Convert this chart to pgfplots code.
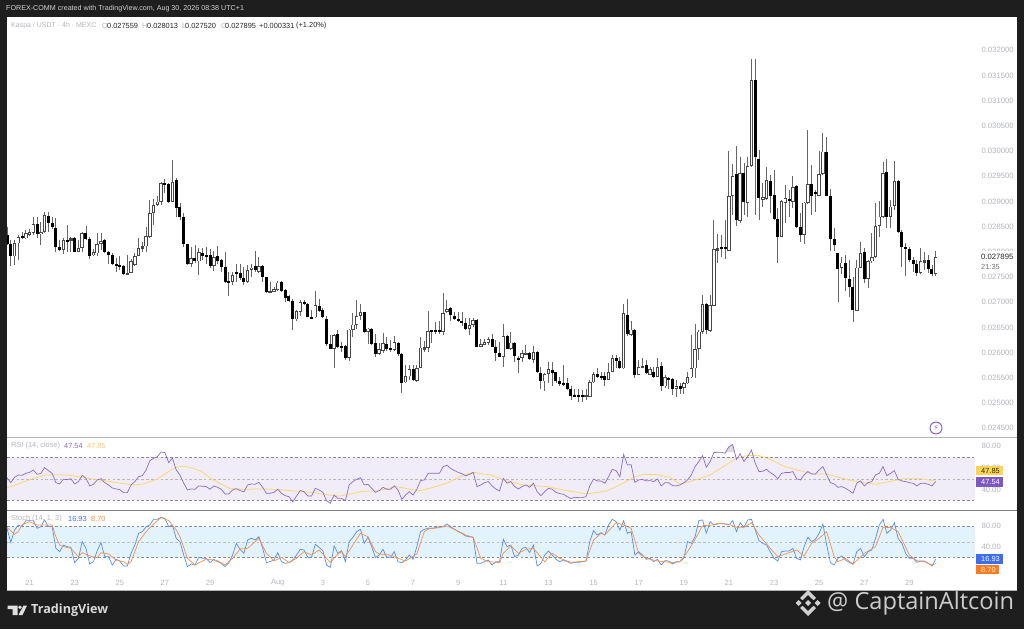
\documentclass[border=0pt]{standalone}
\usepackage{fontspec}
\setmainfont{Liberation Sans}
\newfontfamily\wm{Open Sans}
\newfontfamily\sym{DejaVu Sans}
\usepackage{pgfplots}
\usepackage{pgfplotstable}
\pgfplotsset{compat=1.18}
\definecolor{dark}{HTML}{1E1E1E}
\definecolor{tvgrey}{HTML}{B4B6BC}
\definecolor{rsi}{HTML}{8A6CC8}
\definecolor{rsima}{HTML}{FBD66B}
\definecolor{kline}{HTML}{5A8CF0}
\definecolor{dline}{HTML}{F59045}
\pgfplotstableread{
i o h l c
0 0.02834 0.02850 0.02814 0.02816
1 0.02816 0.02824 0.02773 0.02791
2 0.02791 0.02824 0.02775 0.02818
3 0.02817 0.02834 0.02784 0.02830
4 0.02832 0.02840 0.02825 0.02828
5 0.02827 0.02844 0.02825 0.02838
6 0.02835 0.02845 0.02832 0.02839
7 0.02837 0.02870 0.02834 0.02855
8 0.02855 0.02870 0.02827 0.02836
9 0.02836 0.02860 0.02814 0.02840
10 0.02840 0.02880 0.02837 0.02873
11 0.02871 0.02880 0.02840 0.02857
12 0.02857 0.02869 0.02845 0.02849
13 0.02847 0.02867 0.02800 0.02810
14 0.02810 0.02824 0.02801 0.02804
15 0.02804 0.02827 0.02795 0.02824
16 0.02824 0.02853 0.02800 0.02822
17 0.02824 0.02829 0.02800 0.02827
18 0.02827 0.02829 0.02799 0.02800
19 0.02800 0.02824 0.02799 0.02808
20 0.02808 0.02840 0.02799 0.02837
21 0.02837 0.02851 0.02824 0.02826
22 0.02826 0.02829 0.02785 0.02792
23 0.02793 0.02805 0.02792 0.02799
24 0.02797 0.02838 0.02792 0.02816
25 0.02816 0.02837 0.02804 0.02822
26 0.02824 0.02825 0.02797 0.02799
27 0.02799 0.02802 0.02777 0.02793
28 0.02793 0.02797 0.02774 0.02777
29 0.02777 0.02787 0.02761 0.02775
30 0.02774 0.02791 0.02765 0.02773
31 0.02773 0.02774 0.02754 0.02756
32 0.02756 0.02794 0.02754 0.02759
33 0.02759 0.02785 0.02759 0.02781
34 0.02775 0.02797 0.02773 0.02792
35 0.02792 0.02828 0.02791 0.02808
36 0.02808 0.02820 0.02799 0.02811
37 0.02811 0.02849 0.02800 0.02832
38 0.02830 0.02903 0.02827 0.02877
39 0.02877 0.02905 0.02853 0.02893
40 0.02893 0.02910 0.02892 0.02900
41 0.02899 0.02939 0.02893 0.02937
42 0.02936 0.02945 0.02917 0.02934
43 0.02934 0.02936 0.02898 0.02899
44 0.02899 0.02982 0.02899 0.02939
45 0.02943 0.02947 0.02869 0.02887
46 0.02889 0.02897 0.02863 0.02869
47 0.02870 0.02877 0.02810 0.02816
48 0.02816 0.02816 0.02774 0.02777
49 0.02777 0.02810 0.02771 0.02787
50 0.02787 0.02814 0.02779 0.02781
51 0.02781 0.02807 0.02754 0.02799
52 0.02797 0.02807 0.02784 0.02791
53 0.02794 0.02810 0.02777 0.02793
54 0.02794 0.02805 0.02769 0.02772
55 0.02772 0.02801 0.02763 0.02789
56 0.02792 0.02812 0.02777 0.02781
57 0.02783 0.02785 0.02761 0.02771
58 0.02771 0.02799 0.02738 0.02740
59 0.02743 0.02761 0.02713 0.02740
60 0.02741 0.02761 0.02734 0.02754
61 0.02761 0.02777 0.02741 0.02759
62 0.02759 0.02776 0.02744 0.02749
63 0.02748 0.02771 0.02734 0.02740
64 0.02740 0.02774 0.02738 0.02764
65 0.02764 0.02777 0.02751 0.02769
66 0.02772 0.02801 0.02761 0.02764
67 0.02761 0.02789 0.02758 0.02772
68 0.02772 0.02774 0.02741 0.02750
69 0.02750 0.02751 0.02719 0.02720
70 0.02721 0.02740 0.02720 0.02723
71 0.02722 0.02731 0.02721 0.02726
72 0.02724 0.02742 0.02723 0.02739
73 0.02740 0.02742 0.02721 0.02723
74 0.02724 0.02726 0.02701 0.02708
75 0.02713 0.02715 0.02701 0.02703
76 0.02703 0.02706 0.02645 0.02666
77 0.02666 0.02685 0.02662 0.02683
78 0.02681 0.02705 0.02672 0.02701
79 0.02701 0.02705 0.02695 0.02697
80 0.02697 0.02698 0.02670 0.02670
81 0.02670 0.02685 0.02666 0.02668
82 0.02670 0.02723 0.02668 0.02694
83 0.02693 0.02706 0.02681 0.02683
84 0.02685 0.02688 0.02668 0.02670
85 0.02666 0.02672 0.02613 0.02617
86 0.02617 0.02635 0.02607 0.02608
87 0.02608 0.02638 0.02569 0.02635
88 0.02637 0.02645 0.02609 0.02611
89 0.02613 0.02622 0.02602 0.02611
90 0.02613 0.02615 0.02586 0.02590
91 0.02590 0.02648 0.02584 0.02646
92 0.02646 0.02679 0.02632 0.02656
93 0.02655 0.02705 0.02648 0.02673
94 0.02673 0.02697 0.02665 0.02681
95 0.02681 0.02681 0.02640 0.02642
96 0.02642 0.02650 0.02617 0.02648
97 0.02648 0.02650 0.02616 0.02617
98 0.02620 0.02637 0.02592 0.02597
99 0.02597 0.02619 0.02596 0.02607
100 0.02604 0.02640 0.02599 0.02619
101 0.02617 0.02631 0.02604 0.02607
102 0.02609 0.02625 0.02602 0.02607
103 0.02605 0.02634 0.02604 0.02621
104 0.02620 0.02622 0.02594 0.02597
105 0.02597 0.02599 0.02521 0.02539
106 0.02541 0.02576 0.02539 0.02554
107 0.02553 0.02576 0.02546 0.02567
108 0.02567 0.02576 0.02544 0.02546
109 0.02544 0.02576 0.02541 0.02570
110 0.02570 0.02631 0.02569 0.02610
111 0.02609 0.02624 0.02602 0.02611
112 0.02609 0.02683 0.02602 0.02643
113 0.02645 0.02646 0.02619 0.02643
114 0.02646 0.02660 0.02638 0.02644
115 0.02646 0.02662 0.02638 0.02644
116 0.02642 0.02718 0.02635 0.02679
117 0.02681 0.02705 0.02679 0.02686
118 0.02688 0.02690 0.02662 0.02674
119 0.02673 0.02680 0.02665 0.02667
120 0.02667 0.02681 0.02660 0.02662
121 0.02662 0.02680 0.02653 0.02660
122 0.02658 0.02668 0.02645 0.02647
123 0.02647 0.02668 0.02635 0.02655
124 0.02655 0.02668 0.02652 0.02665
125 0.02664 0.02666 0.02611 0.02612
126 0.02612 0.02628 0.02611 0.02617
127 0.02617 0.02628 0.02615 0.02621
128 0.02619 0.02632 0.02615 0.02627
129 0.02627 0.02637 0.02611 0.02612
130 0.02612 0.02625 0.02584 0.02600
131 0.02600 0.02622 0.02591 0.02592
132 0.02592 0.02657 0.02572 0.02633
133 0.02633 0.02635 0.02607 0.02607
134 0.02608 0.02642 0.02605 0.02620
135 0.02620 0.02621 0.02582 0.02594
136 0.02590 0.02594 0.02559 0.02588
137 0.02589 0.02605 0.02582 0.02599
138 0.02597 0.02615 0.02595 0.02600
139 0.02600 0.02602 0.02586 0.02587
140 0.02586 0.02613 0.02579 0.02601
141 0.02601 0.02603 0.02560 0.02562
142 0.02559 0.02571 0.02529 0.02543
143 0.02543 0.02559 0.02525 0.02558
144 0.02558 0.02581 0.02539 0.02567
145 0.02566 0.02582 0.02533 0.02559
146 0.02561 0.02562 0.02539 0.02543
147 0.02543 0.02552 0.02534 0.02538
148 0.02539 0.02576 0.02533 0.02536
149 0.02539 0.02549 0.02526 0.02529
150 0.02529 0.02533 0.02506 0.02515
151 0.02517 0.02529 0.02513 0.02515
152 0.02517 0.02529 0.02503 0.02514
153 0.02517 0.02526 0.02502 0.02516
154 0.02515 0.02529 0.02506 0.02517
155 0.02513 0.02546 0.02512 0.02541
156 0.02541 0.02562 0.02539 0.02557
157 0.02557 0.02569 0.02549 0.02551
158 0.02553 0.02562 0.02546 0.02551
159 0.02553 0.02562 0.02533 0.02546
160 0.02546 0.02579 0.02545 0.02562
161 0.02562 0.02596 0.02561 0.02589
162 0.02589 0.02596 0.02569 0.02584
163 0.02584 0.02591 0.02567 0.02569
164 0.02569 0.02697 0.02568 0.02678
165 0.02674 0.02707 0.02634 0.02637
166 0.02635 0.02662 0.02634 0.02646
167 0.02646 0.02648 0.02549 0.02556
168 0.02556 0.02586 0.02555 0.02572
169 0.02572 0.02589 0.02571 0.02574
170 0.02575 0.02586 0.02558 0.02559
171 0.02556 0.02572 0.02555 0.02567
172 0.02562 0.02571 0.02549 0.02552
173 0.02552 0.02590 0.02551 0.02572
174 0.02574 0.02582 0.02525 0.02533
175 0.02533 0.02556 0.02531 0.02551
176 0.02549 0.02551 0.02529 0.02547
177 0.02547 0.02549 0.02516 0.02529
178 0.02529 0.02546 0.02513 0.02534
179 0.02533 0.02539 0.02518 0.02529
180 0.02531 0.02542 0.02519 0.02539
181 0.02539 0.02561 0.02538 0.02551
182 0.02551 0.02636 0.02549 0.02570
183 0.02569 0.02657 0.02549 0.02607
184 0.02607 0.02645 0.02586 0.02642
185 0.02642 0.02715 0.02638 0.02697
186 0.02697 0.02698 0.02638 0.02645
187 0.02644 0.02715 0.02642 0.02695
188 0.02693 0.02863 0.02693 0.02805
189 0.02805 0.02836 0.02778 0.02807
190 0.02809 0.02834 0.02790 0.02807
191 0.02809 0.02863 0.02786 0.02805
192 0.02802 0.03000 0.02802 0.02911
193 0.02911 0.02974 0.02873 0.02951
194 0.02954 0.03010 0.02852 0.02863
195 0.02862 0.02989 0.02858 0.02956
196 0.02956 0.02976 0.02873 0.02900
197 0.02897 0.02989 0.02870 0.02970
198 0.02970 0.03183 0.02969 0.03141
199 0.03141 0.03182 0.02873 0.02989
200 0.02984 0.03002 0.02863 0.02906
201 0.02905 0.02936 0.02890 0.02909
202 0.02905 0.02969 0.02904 0.02943
203 0.02941 0.02953 0.02878 0.02911
204 0.02913 0.02963 0.02863 0.02865
205 0.02865 0.02887 0.02779 0.02830
206 0.02830 0.02903 0.02830 0.02901
207 0.02898 0.02933 0.02857 0.02906
208 0.02905 0.02923 0.02870 0.02901
209 0.02900 0.02951 0.02887 0.02929
210 0.02931 0.02933 0.02847 0.02850
211 0.02850 0.02877 0.02820 0.02834
212 0.02834 0.02900 0.02816 0.02898
213 0.02897 0.03042 0.02896 0.02934
214 0.02934 0.02972 0.02873 0.02911
215 0.02918 0.02923 0.02880 0.02916
216 0.02911 0.03000 0.02910 0.02954
217 0.02954 0.03036 0.02952 0.02999
218 0.02999 0.03028 0.02910 0.02911
219 0.02911 0.02925 0.02802 0.02825
220 0.02825 0.02848 0.02802 0.02814
221 0.02797 0.02798 0.02701 0.02767
222 0.02769 0.02790 0.02756 0.02779
223 0.02779 0.02794 0.02723 0.02748
224 0.02746 0.02784 0.02711 0.02731
225 0.02730 0.02751 0.02660 0.02685
226 0.02683 0.02784 0.02683 0.02769
227 0.02769 0.02820 0.02768 0.02798
228 0.02800 0.02808 0.02738 0.02746
229 0.02746 0.02784 0.02729 0.02781
230 0.02781 0.02837 0.02778 0.02789
231 0.02790 0.02898 0.02788 0.02852
232 0.02852 0.02901 0.02830 0.02870
233 0.02870 0.02979 0.02867 0.02956
234 0.02958 0.02984 0.02847 0.02870
235 0.02870 0.02903 0.02847 0.02890
236 0.02892 0.02981 0.02883 0.02941
237 0.02941 0.02943 0.02837 0.02839
238 0.02840 0.02843 0.02771 0.02810
239 0.02809 0.02817 0.02753 0.02805
240 0.02805 0.02809 0.02780 0.02783
241 0.02783 0.02790 0.02761 0.02776
242 0.02777 0.02784 0.02752 0.02759
243 0.02758 0.02807 0.02756 0.02781
244 0.02781 0.02800 0.02764 0.02784
245 0.02783 0.02794 0.02758 0.02767
246 0.02766 0.02774 0.02752 0.02756
247 0.02756 0.02801 0.02752 0.02790
}\candles
\pgfplotsset{tvaxis/.style={scale only axis,width=1009pt,xmin=0,xmax=268.35,
  axis line style={draw=none},major tick length=0pt,xtick=\empty,
  yticklabel pos=right,
  /pgf/number format/assume math mode=true,
  yticklabel style={anchor=west,xshift=-38pt,text=tvgrey,font=\fontsize{7.7}{9}\selectfont},
  clip=true},
  bar/.style 2 args={draw=none,mark=none,forget plot,unbounded coords=discard,
    error bars/.cd,y dir=minus,y explicit,error mark=none,
    error bar style={solid,line cap=butt,line width=#1,draw=#2}}}
\begin{document}
\begin{tikzpicture}[x=1pt,y=1pt]
\path[use as bounding box] (0,0) rectangle (1024,629);
\fill[dark] (0,0) rectangle (1024,629);
\fill[white] (7,39) rectangle (1016.5,612);
% main price panel
\begin{axis}[tvaxis,at={(7pt,192pt)},anchor=south west,height=420pt,
  ymin=0.024328,ymax=0.032661,scaled y ticks=false,
  ytick={0.0245,0.025,0.0255,0.026,0.0265,0.027,0.0275,0.028,0.0285,0.029,0.0295,0.03,0.0305,0.031,0.0315,0.032},
  yticklabel style={/pgf/number format/fixed,/pgf/number format/precision=6,/pgf/number format/fixed zerofill}]
% wicks
\addplot[bar={.85pt}{black!60}]
  table[x=i,y=h,y error expr=\thisrow{h}-\thisrow{l}]{\candles};
% falling bodies
\addplot[bar={3pt}{black}]
  table[x expr={\thisrow{c}<\thisrow{o}?\thisrow{i}:nan},y=o,y error expr={max(\thisrow{o}-\thisrow{c},0.00004)}]{\candles};
% rising bodies: outline then inside
\addplot[bar={3.5pt}{black!72}]
  table[x expr={\thisrow{c}>=\thisrow{o}?\thisrow{i}:nan},y=c,y error expr={max(\thisrow{c}-\thisrow{o},0.00005)}]{\candles};
\addplot[bar={1.7pt}{white}]
  table[x expr={\thisrow{c}-\thisrow{o}>0.00003?\thisrow{i}:nan},y expr=\thisrow{c}-0.000016,y error expr={\thisrow{c}-\thisrow{o}-0.000032}]{\candles};
\end{axis}
% RSI panel
\begin{axis}[tvaxis,at={(7pt,119pt)},anchor=south west,height=73pt,ymin=21.3,ymax=88.6,
  ytick={40,60,80},yticklabel style={/pgf/number format/fixed,/pgf/number format/precision=2,/pgf/number format/fixed zerofill}]
\addplot[fill=rsi,fill opacity=.12,draw=none,forget plot] coordinates {(0,30)(257.4,30)(257.4,70)(0,70)} \closedcycle;
\addplot[fill=black!14,draw=none,forget plot] coordinates {(190.9,74.6)(192,79.7)(193,81.6)(193.6,74.6)} -- cycle;
\addplot[black!45,dash pattern=on 2.6pt off 2.2pt,line width=.6pt,forget plot] coordinates {(0,70)(257.4,70)};
\addplot[black!28,dash pattern=on 2.6pt off 2.2pt,line width=.6pt,forget plot] coordinates {(0,50)(257.4,50)};
\addplot[black!45,dash pattern=on 2.6pt off 2.2pt,line width=.6pt,forget plot] coordinates {(0,30)(257.4,30)};
\addplot[rsima,line width=.75pt,forget plot] coordinates {
(0,41.6)(3.5,45.9)(7,50.5)(10.5,53.6)(12.8,53.9)(16.8,53.3)(20.3,51.1)(24.7,49)(29.2,46.5)(33.6,44.4)(36.3,45.3)(39.8,49.6)(42.5,55.7)(44.7,60.4)(46.5,61.6)(48.7,60.7)(51.3,57.6)(54.9,49)(59.3,41)(62.8,40.4)(67.3,40.7)(71.7,40.4)(76.2,38.9)(81.5,37.3)(86.8,34.5)(88.6,34.2)
(92.1,36.7)(94.8,38.6)(98.3,38.9)(103.6,42.9)(107.2,40.4)(109.8,39.2)(113.4,42.2)(116.9,45.9)(121.4,53.6)(124,56)(128.5,53.6)(132.9,48.1)(137.3,44.4)(143.5,42.9)(148.8,39.2)(154.2,36.1)(159.5,38.9)(163,44.4)(166.6,51.4)(169.2,54.2)(172.8,53.9)(176.3,51.4)
(179,45.3)(182.5,48.4)(187,53.6)(190.5,61.3)(194,69)(196.7,71.4)(199.8,71.7)(202.9,68)(206.5,61.9)(210,58.2)(214.4,54.5)(218,54.5)(221.5,51.1)(226,47.5)(230.8,45)(234.8,47.5)(238.4,50.2)(242.8,50.2)(247,47.85)};
\addplot[rsi,line width=.7pt,forget plot] coordinates {
(0,51.1)(1,46.5)(2,51.4)(3,53.6)(4,53.3)(5,55.1)(6,56)(7,58.2)(8,54.2)(9,55.1)(10,60.4)(11,57.6)(12,55.1)(13,46.5)(14,45.3)(15,49.6)(16,49.3)(17,50.2)(18,45.3)(19,47.5)(20,53.3)(21,50.5)(22,43.5)(23,45)(24,49)(25,50.2)(26,46.5)(27,44.4)(28,41.6)(29,40.7)(30,40.1)(31,37.3)(32,37.3)(33,44.4)(34,47.5)(35,52)(36,53)(37,58.2)(38,66.8)(39,69)(40,70.5)(41,74.8)(42,74.2)(43,65)(44,69.3)(45,58.2)(46,53.6)(47,46)(48,39.8)(49,40.7)(50,40.4)(51,43.5)(52,43.2)(53,42.9)(54,40.4)(55,43.5)(56,42.2)(57,40.4)(58,36.1)(59,36.1)(60,39.8)(61,41)(62,39.2)(63,38)(64,44.4)(65,45.3)(66,45)(67,46.8)(68,42.2)(69,36.7)(70,36.7)(71,37.6)(72,40.4)(73,36.7)(74,34.5)(75,33.6)(76,28.7)(77,34.2)(78,39.2)(79,38.2)(80,34.2)(81,34.2)(82,41.3)(83,39.8)(84,37.6)(85,29.9)(86,27.5)(87,35.1)(88,32)
(89,32)(90,29.9)(91,44.4)(92,47.5)(93,49.6)(94,51.1)(95,44.4)(96,45)(97,41.3)(98,37.6)(99,39.2)(100,42.2)(101,40.4)(102,40.4)(103,43.5)(104,39.8)(105,31.1)(106,35.1)(107,38.2)(108,35.1)(109,40.4)(110,48.4)(111,49)(112,55.1)(113,55.1)(114,55.1)(115,55.1)(116,61.3)(117,62.5)(118,59.7)(119,57.6)(120,56)(121,54.8)(122,52.7)(123,54.2)(124,56)(125,42.9)(126,44.4)(127,46.5)(128,47.5)(129,43.5)(130,40.7)(131,38.9)(132,50.5)(133,46)(134,47.5)(135,42.9)(136,40.7)(137,42.9)(138,44.4)(139,42.2)(140,46)(141,38.2)(142,34.5)(143,38.2)(144,41.3)(145,40.4)(146,37.6)(147,36.4)(148,35.8)(149,33.6)(150,31.8)(151,33)(152,32.7)(153,32.7)(154,33.6)(155,43.5)(156,49.9)(157,48.1)(158,48.1)(159,46)(160,52)(161,58.8)(162,57.6)(163,52)(164,72.6)(165,62.8)(166,63.1)(167,46.8)(168,49)(169,49.6)(170,48.1)(171,48.4)(172,47.5)(173,49.9)(174,43.5)(175,46.5)(176,46.5)(177,43.8)(178,43.5)
(179,44.4)(180,46.5)(181,49)(182,53.6)(183,61.3)(184,65.9)(185,71.4)(186,60.7)(187,65.9)(188,74.2)(189,74.5)(190,74.5)(191,73.6)(192,79.7)(193,81.6)(194,68)(195,73)(196,65.9)(197,70.5)(198,76.6)(199,64.4)(200,56.7)(201,57)(202,58.8)(203,55.8)(204,53.6)(205,50.2)(206,55.1)(207,55.8)(208,55.8)(209,56.7)(210,50.2)(211,49)(212,53.6)(213,56.7)(214,54.5)(215,54.5)(216,58.2)(217,61.3)(218,53.6)(219,46.5)(220,45.3)(221,42.2)(222,42.9)(223,41.3)(224,39.2)(225,36.7)(226,46)(227,48.1)(228,43.5)(229,46.5)(230,47.5)(231,53.6)(232,55.1)(233,61.3)(234,53)(235,55.1)(236,57.6)(237,49.6)(238,48.1)(239,47.5)(240,46.5)(241,46)(242,43.5)(243,46)(244,46)(245,45)(246,43.5)(247,47.54)};
\end{axis}
% Stochastic panel with the time axis
\begin{axis}[tvaxis,at={(7pt,39pt)},anchor=south west,height=79pt,ymin=-41.8,ymax=109.3,
  ytick={40,80},yticklabel style={/pgf/number format/fixed,/pgf/number format/precision=2,/pgf/number format/fixed zerofill},
  xtick={6,18,30,42,54,72,84,96,108,120,132,144,156,168,180,192,204,216,228,240},
  xticklabels={21,23,25,27,29,Aug,3,5,7,9,11,13,15,17,19,21,23,25,27,29},
  xticklabel style={anchor=center,yshift=7.5pt,text=tvgrey,font=\fontsize{7.5}{9}\selectfont}]
\addplot[fill=kline!70!cyan,fill opacity=.14,draw=none,forget plot] coordinates {(0,20)(257.4,20)(257.4,80)(0,80)} \closedcycle;
\addplot[black!45,dash pattern=on 2.6pt off 2.2pt,line width=.6pt,forget plot] coordinates {(0,80)(257.4,80)};
\addplot[black!25,dash pattern=on 2.6pt off 2.2pt,line width=.6pt,forget plot] coordinates {(0,50)(257.4,50)};
\addplot[black!45,dash pattern=on 2.6pt off 2.2pt,line width=.6pt,forget plot] coordinates {(0,20)(257.4,20)};
\addplot[kline,line width=.7pt,forget plot] coordinates {
(0,76.2)(1,49.4)(2,73)(3,82.6)(4,79.4)(5,90.9)(6,90.9)(7,90.9)(8,76.2)(9,79.4)(10,92.1)(11,79.4)(12,79.4)(13,37.9)(14,31.5)(15,44.3)(16,41.1)(17,39.8)(18,10.5)(19,18.8)(20,50.7)(21,37.9)(22,7.9)(23,12.4)(24,33.4)(25,48.8)(26,22)(27,22)(28,6)(29,16.9)(30,13.7)(31,4.1)(32,4.1)(33,28.3)(34,44.3)(35,66.6)(36,69.8)(37,79.4)(38,82.6)(39,93.4)(40,93.4)(41,97.2)(42,95.3)(43,79.4)(44,82.6)(45,57)(46,50.7)(47,25.1)(48,2.8)(49,7.9)(50,6)(51,20.7)(52,18.8)(53,18.8)(54,10.5)(55,16.9)(56,12.4)(57,9.2)(58,2.8)(59,10.5)(60,25.1)(61,47.5)(62,36)(63,28.3)(64,53.9)(65,57)(66,53.9)(67,60.2)(68,37.9)(69,10.5)(70,12.4)(71,15.6)(72,29.6)(73,12.4)(74,9.2)(75,10.5)(76,15.6)(77,25.1)(78,36)(79,34.7)(80,20.7)(81,20.7)(82,45.6)(83,39.8)(84,33.4)(85,6)(86,1.5)(87,42.4)(88,28.3)
(89,33.4)(90,12.4)(91,50.7)(92,59)(93,69.8)(94,74.3)(95,47.5)(96,59)(97,41.1)(98,20)(99,25.1)(100,36)(101,20.7)(102,20.7)(103,31.5)(104,12.4)(105,10.5)(106,15.6)(107,25.1)(108,16.9)(109,41.1)(110,69.8)(111,74.3)(112,76.2)(113,76.2)(114,77.5)(115,79.4)(116,79.4)(117,84.5)(118,79.4)(119,74.3)(120,69.8)(121,66.6)(122,61.5)(123,60.2)(124,59)(125,9.2)(126,9.2)(127,12.4)(128,15.6)(129,6)(130,12.4)(131,12.4)(132,55.1)(133,41.1)(134,44.3)(135,22)(136,25.1)(137,37.9)(138,39.8)(139,29.6)(140,44.3)(141,4.1)(142,9.2)(143,25.1)(144,32.8)(145,25.1)(146,16.9)(147,12.4)(148,15.6)(149,12.4)(150,9.2)(151,11.1)(152,11.1)(153,12.4)(154,13.7)(155,50.7)(156,71.7)(157,63.4)(158,67.9)(159,63.4)(160,82.6)(161,93.4)(162,89)(163,73)(164,90.9)(165,66.6)(166,69.8)(167,25.1)(168,31.5)(169,25.1)(170,16.9)(171,18.8)(172,12.4)(173,16.9)(174,6)(175,14.3)(176,13.7)(177,7.9)(178,12.4)
(179,12.4)(180,18.8)(181,50.7)(182,47.5)(183,60.2)(184,90.9)(185,92.1)(186,66.6)(187,89)(188,82.6)(189,84.5)(190,85.8)(191,84.5)(192,82.6)(193,90.9)(194,69.8)(195,87)(196,78.1)(197,92.1)(198,93.4)(199,73)(200,52.6)(201,47.5)(202,44.3)(203,31.5)(204,18.8)(205,13.7)(206,31.5)(207,32.8)(208,32.8)(209,37.9)(210,18.8)(211,15.6)(212,41.1)(213,59)(214,50.7)(215,55.1)(216,66.6)(217,84.5)(218,44.3)(219,10.5)(220,6)(221,18.8)(222,23.2)(223,15.6)(224,11.1)(225,7.3)(226,31.5)(227,37.9)(228,22)(229,31.5)(230,34.7)(231,57)(232,82.6)(233,93.4)(234,66.6)(235,73)(236,87)(237,57)(238,47.5)(239,28.3)(240,18.8)(241,18.8)(242,11.1)(243,13.7)(244,13.7)(245,9.2)(246,4.1)(247,16.93)};
\addplot[dline,line width=.7pt,forget plot] coordinates {
(0,78.1)(2,64.7)(3,69.8)(4,82.6)(6,89)(8,82.6)(10,82.6)(12,82.6)(13,60.2)(14,44.3)(15,41.1)(17,37.9)(19,22)(20,29.6)(22,23.2)(24,20)(25,29.6)(27,27.1)(29,15.6)(31,12.4)(32,7.3)(33,12.4)(35,50.7)(37,69.8)(39,84.5)(41,96.6)(43,90.9)(45,73)(46,60.2)(48,18.8)(50,6)(53,17.5)(56,14.3)(58,6)(60,18.8)(62,36.6)(64,37.9)(66,50.7)(67,57)(69,28.3)(71,13.7)(73,20.7)(75,10.5)(77,18.8)(79,31.5)(81,25.1)(83,34.7)(84,27.1)(86,10.5)(88,27.1)
(89,31.5)(90,22)(92,44.3)(94,66.6)(96,60.2)(98,31.5)(99,27.1)(102,25.1)(104,18.8)(106,13.7)(109,27.1)(111,69.8)(112,74.9)(115,77.5)(117,80.7)(119,74.3)(122,63.4)(124,59)(126,18.8)(128,12.4)(131,10.5)(132,28.3)(134,43)(136,28.3)(138,36)(140,37.9)(143,12.4)(145,28.3)(147,18.8)(150,11.1)(154,13.7)(156,53.9)(158,66.6)(159,63.4)(162,87)(164,82.6)(166,76.2)(168,28.3)(170,18.8)(173,13.7)(175,12.4)(177,10.5)(179,12.4)
(181,31.5)(183,55.1)(185,81.3)(188,82.6)(189,85.8)(192,83.8)(194,78.1)(196,78.1)(198,87)(200,63.4)(203,37.9)(205,22)(208,29.6)(210,34.7)(212,23.2)(214,47.5)(216,57)(218,69.8)(220,22)(221,12.4)(223,18.8)(225,7.9)(228,28.3)(231,41.1)(233,78.1)(235,77.5)(237,69.8)(240,25.1)(242,14.3)(244,12.4)(246,6)(247,8.7)};
\end{axis}
% panel separators
\draw[black!28,line width=1.4pt] (7,191.5)--(1016.5,191.5);
\draw[black!50,line width=1pt] (7,119)--(1016.5,119);
\draw[black!30,line width=.8pt] (7,39)--(1016.5,39);
% header and legends
\node[anchor=west,inner sep=0,text=black!18!white,font=\fontsize{7.15}{9}\selectfont] at (6,620.5) {FOREX-COMM created with TradingView.com, Aug 30, 2026 08:38 UTC+1};
\begin{scope}[font=\fontsize{7.4}{9}\selectfont]
\node[anchor=west,inner sep=0,text=tvgrey,font=\fontsize{7}{9}\selectfont] at (11,603) {Kaspa / USDT · 4h · MEXC};
\node[anchor=west,inner sep=0,text=tvgrey] at (102,603) {O};
\node[anchor=west,inner sep=0,text=black!85] at (107,603) {0.027559};
\node[anchor=west,inner sep=0,text=tvgrey] at (142,603) {H};
\node[anchor=west,inner sep=0,text=black!85] at (147,603) {0.028013};
\node[anchor=west,inner sep=0,text=tvgrey] at (182,603) {L};
\node[anchor=west,inner sep=0,text=black!85] at (185,603) {0.027520};
\node[anchor=west,inner sep=0,text=tvgrey] at (221,603) {C};
\node[anchor=west,inner sep=0,text=black!85] at (225,603) {0.027895};
\node[anchor=west,inner sep=0,text=black!85] at (259,603) {+0.000331};
\node[anchor=west,inner sep=0,text=black!85] at (296,603) {(+1.20\%)};
\node[anchor=west,inner sep=0,text=tvgrey] at (11,183) {RSI (14, close)};
\node[anchor=west,inner sep=0,text=rsi] at (64,183) {47.54};
\node[anchor=west,inner sep=0,text=rsima!90!orange] at (87,183) {47.85};
\node[anchor=west,inner sep=0,text=tvgrey] at (11,110) {Stoch (14, 1, 3)};
\node[anchor=west,inner sep=0,text=kline!80!blue] at (68,110) {16.93};
\node[anchor=west,inner sep=0,text=dline] at (91,110) {8.70};
\end{scope}
% last price label
\fill[white] (978,365) rectangle (1016,377.5);
\node[anchor=west,inner sep=0,text=black!85,font=\fontsize{7.7}{9}\selectfont] at (981,372) {0.027895};
\node[anchor=west,inner sep=0,text=black!55,font=\fontsize{7.4}{9}\selectfont] at (981,362.5) {21:35};
% value flags
\definecolor{flagy}{HTML}{FFD54F}
\definecolor{flagp}{HTML}{7E57C2}
\definecolor{flagb}{HTML}{3D6EF0}
\definecolor{flago}{HTML}{FF7A1A}
\fill[flagy] (976,154) rectangle (1003,163);
\node[anchor=west,inner sep=0,text=black!85,font=\fontsize{7.4}{9}\selectfont] at (981,158.5) {47.85};
\fill[flagp] (976,142) rectangle (1003,152);
\node[anchor=west,inner sep=0,text=white,font=\fontsize{7.4}{9}\selectfont] at (981,147) {47.54};
\fill[flagb] (976,65) rectangle (1003,75);
\node[anchor=west,inner sep=0,text=white,font=\fontsize{7.4}{9}\selectfont] at (981,70) {16.93};
\fill[flago] (976,55.5) rectangle (999,64);
\node[anchor=west,inner sep=0,text=white,font=\fontsize{7.4}{9}\selectfont] at (981,59.5) {8.70};
% purple alert icon
\node[circle,draw=rsi!80!violet,line width=.9pt,inner sep=0,minimum size=12pt,text=rsi,font=\sym\fontsize{7.5}{8}\selectfont] at (936,201) {⚡};
% TradingView logo
\fill[white!88!black] (7.5,23.5) rectangle (17.5,20) (12.5,20) rectangle (17.5,14);
\fill[white!88!black] (20,21.7) circle (1.9);
\fill[white!88!black] (23.5,23.5)--(27,23.5)--(22.5,14)--(18.5,14)--cycle;
\node[anchor=west,inner sep=0,text=white!86!black,font=\wm\bfseries\fontsize{12.6}{16}\selectfont] at (31,19) {TradingView};
% watermark
\node[anchor=west,inner sep=0,text=white!80!black,font=\wm\fontsize{23.6}{28}\selectfont] at (827,26) {@ CaptainAltcoin};
\begin{scope}[shift={(808,26)},white!82!black]
\fill (-3,0)--(0,3)--(3,0)--(0,-3)--cycle;
\fill (-12.5,0)--(-9.5,3)--(-6.5,0)--(-9.5,-3)--cycle;
\fill (12.5,0)--(9.5,3)--(6.5,0)--(9.5,-3)--cycle;
\fill (0,13)--(8,5)--(5.5,2.8)--(0,8)--(-5.5,2.8)--(-8,5)--cycle;
\fill (0,-13)--(8,-5)--(5.5,-2.8)--(0,-8)--(-5.5,-2.8)--(-8,-5)--cycle;
\end{scope}
\end{tikzpicture}
\end{document}
